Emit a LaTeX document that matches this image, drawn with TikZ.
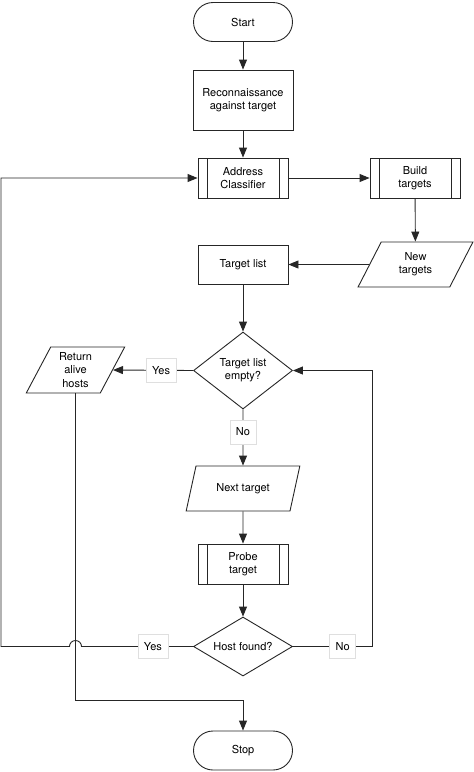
\documentclass[tikz,border=0pt]{standalone}
\usepackage{fontspec}
\setmainfont{TeX Gyre Heros}
\usetikzlibrary{shapes.geometric, arrows.meta}

\tikzset{
  flow/.style={draw=black!85, line width=0.9pt, -{Triangle[length=10pt,width=8pt]}},
  terminal/.style={draw=black!85, line width=0.9pt, rounded corners=19.5pt,
    minimum width=99pt, minimum height=39pt, align=center},
  process/.style={draw=black!85, line width=0.9pt, minimum width=100pt,
    minimum height=60pt, align=center},
  subproc/.style={draw=black!85, line width=0.9pt, minimum width=90pt,
    minimum height=40pt, align=center,
    path picture={\draw[black!85, line width=0.9pt]
      ([xshift=9pt]path picture bounding box.north west) --
      ([xshift=9pt]path picture bounding box.south west)
      ([xshift=-9pt]path picture bounding box.north east) --
      ([xshift=-9pt]path picture bounding box.south east);}},
  datanode/.style={draw=black!85, line width=0.9pt, trapezium,
    trapezium left angle=65, trapezium right angle=115,
    trapezium stretches=true, minimum height=45pt, align=center, inner sep=1pt},
  decision/.style={draw=black!85, line width=0.9pt, diamond, aspect=1.5,
    inner sep=0pt, minimum width=99pt, align=center},
  tag/.style={draw=gray!25, fill=white, line width=0.6pt, inner xsep=6pt,
    inner ysep=0pt, minimum height=24pt},
}

\begin{document}
\begin{tikzpicture}[x=1pt, y=1pt, font=\fontsize{11}{13.3}\selectfont]
    \useasboundingbox (0,0) rectangle (474,-772);

    % main column
    \node[terminal] (start) at (243,-22) {Start};
    \node[process] (recon) at (243,-100) {Reconnaissance\\against target};
    \node[subproc] (addr) at (243,-178) {Address\\Classifier};
    \node[process, minimum width=90pt, minimum height=39pt] (tlist)
        at (243,-264.5) {Target list};
    \node[decision, minimum height=77pt] (empty) at (243,-370.5)
        {Target list\\empty?};
    \node[datanode, minimum width=114pt] (next) at (243,-488.5) {Next target};
    \node[subproc] (probe) at (243,-564) {Probe\\target};
    \node[decision, minimum height=59pt] (found) at (243,-646.5) {Host found?};
    \node[terminal] (stop) at (243,-750.5) {Stop};

    % side branches
    \node[subproc] (build) at (415,-178) {Build\\targets};
    \node[datanode, minimum width=115pt] (newt) at (415.5,-264.5) {New\\targets};
    \node[datanode, minimum width=99pt, minimum height=46pt] (ret) at (75.5,-370)
        {Return\\alive\\hosts};

    % helper points
    \coordinate (hop) at (81.5,-646.5);
    \coordinate (edge) at (1,-646.5);
    \coordinate (turn) at (243,-700.5);

    % connectors
    \draw[flow] (start) -- (recon);
    \draw[flow] (recon) -- (addr);
    \draw[flow] (addr) -- (build);
    \draw[flow] (build) -- (newt);
    \draw[flow] (newt) -- (tlist);
    \draw[flow] (tlist) -- (empty);
    \draw[flow] (empty.west) -- node[tag, pos=0.4] {Yes} (ret.east);
    \draw[flow] (empty.south) -- node[tag, pos=0.4] {No} (next.north);
    \draw[flow] (next) -- (probe);
    \draw[flow] (probe) -- (found);
    \draw[flow] (found.east) -- node[tag, pos=0.63] {No} (372,-646.5)
        |- (empty.east);
    \draw[flow] (found.west) -- node[tag, pos=0.36] {Yes} (hop)
        arc[start angle=0, end angle=180, radius=6] -- (edge) |- (addr.west);
    \draw[flow] (ret.south) |- (turn) -- (stop.north);
\end{tikzpicture}
\end{document}
